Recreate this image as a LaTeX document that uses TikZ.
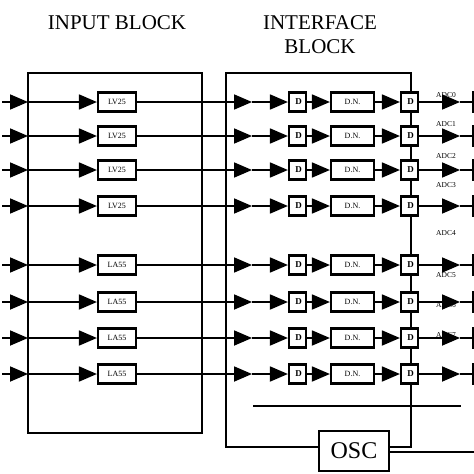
\documentclass[tikz,border=0pt]{standalone}
\usepackage{fontspec}
\setmainfont{Liberation Serif}
\usetikzlibrary{arrows.meta}
\begin{document}
\begin{tikzpicture}[x=1pt,y=-1pt,line width=1.8pt,
  tip/.style={-{Triangle[length=18pt,width=15pt]}},
  bx/.style={draw,fill=white,line width=2.2pt,inner sep=0pt,minimum height=19pt,font=\fontsize{8}{9}\selectfont},
  dbox/.style={bx,minimum width=17pt,font=\fontsize{9}{9}\selectfont\bfseries},
  title/.style={font=\fontsize{21}{24}\selectfont,anchor=base},
  adc/.style={font=\fontsize{7.5}{8}\selectfont}]
\useasboundingbox (0,0) rectangle (474,474);
% titles
\node[title] (t1) at (117,29) {INPUT BLOCK};
\node[title] (t2) at (320,29) {INTERFACE};
\node[title] (t3) at (320,53) {BLOCK};
% input block
\draw[line width=2pt] (28,73) rectangle (202,433);
% OSC and interface block
\node[draw,line width=2.2pt,minimum width=70pt,minimum height=40pt,inner sep=0pt,font=\fontsize{24}{26}\selectfont] (osc) at (354,451) {OSC};
\coordinate (bl) at (226,447);
\coordinate (br) at (411,447);
\coordinate (tl) at (226,73);
\coordinate (tr) at (411,73);
\draw[line width=2pt] (bl -| osc.west) -- (bl) -- (tl) -- (tr) -- (br) -- (br -| osc.east);
\coordinate (oscout) at (480,452);
\draw[line width=2pt] (osc.east |- oscout) -- (oscout);
\coordinate (hb1) at (253,406);
\coordinate (hb2) at (461,406);
\draw (hb1) -- (hb2);
% ADC labels
\node[adc] (adc0) at (446,95) {ADC0};
\node[adc] (adc1) at (446,124) {ADC1};
\node[adc] (adc2) at (446,156) {ADC2};
\node[adc] (adc3) at (446,185) {ADC3};
\node[adc] (adc4) at (446,233) {ADC4};
\node[adc] (adc5) at (446,275) {ADC5};
\node[adc] (adc6) at (446,305) {ADC6};
\node[adc] (adc7) at (446,335) {ADC7};
% rows
\foreach \y/\t [count=\i] in {102/LV25,136/LV25,170/LV25,206/LV25,265/LA55,302/LA55,338/LA55,374/LA55} {
  \coordinate (s\i) at (2,\y);
  \coordinate (e\i) at (28,\y);
  \node[bx,minimum width=38pt] (a\i) at (117,\y) {\t};
  \coordinate (m\i) at (252,\y);
  \node[dbox] (d\i) at (297.5,\y) {\hspace{2pt}\raisebox{-2pt}{D}};
  \node[bx,minimum width=43pt] (n\i) at (352.5,\y) {D.N.};
  \node[dbox] (r\i) at (409.5,\y) {\hspace{2pt}\raisebox{-2pt}{D}};
  \coordinate (o\i) at (460,\y);
  \node[bx,minimum width=20pt,anchor=west] (x\i) at (472,\y) {};
  \draw[tip] (s\i) -- (e\i);
  \draw[tip] (e\i) -- (a\i);
  \draw[tip] (a\i) -- (m\i);
  \draw[tip] (m\i) -- (d\i);
  \draw[tip] (d\i) -- (n\i);
  \draw[tip] (n\i) -- (r\i);
  \draw[tip] (r\i) -- (o\i);
  \draw (o\i) -- (x\i);
}
\end{tikzpicture}
\end{document}
